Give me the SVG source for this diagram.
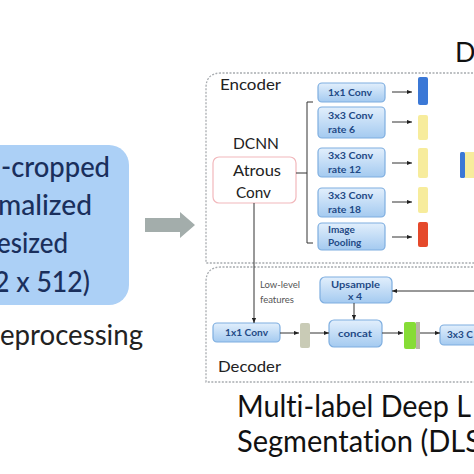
<svg xmlns="http://www.w3.org/2000/svg" width="474" height="474" viewBox="0 0 474 474">
<style>
text{font-variant-ligatures:none;}
.big{font-family:Lato,"Open Sans","Liberation Sans",sans-serif;}
.lt{font-family:Lato,"Liberation Sans",sans-serif;fill:#1a2f5c;font-size:28px;font-weight:500;}
.sm{font-family:Lato,"Liberation Sans",sans-serif;fill:#1f4a86;font-size:10px;font-weight:700;}
.blk{font-family:Lato,"Liberation Sans",sans-serif;fill:#222;}
.bx{fill:url(#bg);stroke:#7eaee0;stroke-width:1.2;}
.dash{fill:none;stroke:#a8acb0;stroke-width:1.3;stroke-dasharray:2 1.5;}
.ln{fill:none;stroke:#333;stroke-width:1;}
.arr{fill:none;stroke:#333;stroke-width:1;marker-end:url(#ah);}
</style>
<defs>
<linearGradient id="bg" x1="0" y1="0" x2="0" y2="1">
<stop offset="0" stop-color="#e2effc"/>
<stop offset="1" stop-color="#a4caf0"/>
</linearGradient>
<marker id="ah" viewBox="0 0 6 6" refX="6" refY="3" markerWidth="5" markerHeight="5" orient="auto" markerUnits="userSpaceOnUse">
<path d="M0,0.5 L6,3 L0,5.5 z" fill="#222"/>
</marker>
</defs>
<rect width="474" height="474" fill="#fff"/>

<g id="preprocessing">
<rect x="-30" y="145" width="159" height="160" rx="20" fill="#acd0f6"/>
<text class="lt" x="1" y="177" textLength="109" lengthAdjust="spacingAndGlyphs">-cropped</text>
<text class="lt" x="-2" y="215" textLength="94" lengthAdjust="spacingAndGlyphs">malized</text>
<text class="lt" x="-3" y="253" textLength="71" lengthAdjust="spacingAndGlyphs">esized</text>
<text class="lt" x="-6" y="292" textLength="96" lengthAdjust="spacingAndGlyphs">2 x 512)</text>
<text class="big" x="0" y="345" font-size="28" fill="#222" textLength="143" lengthAdjust="spacingAndGlyphs">eprocessing</text>
</g>

<g id="main-arrow">
<path d="M145,218 H180 V212 L195,225 L180,238 V232 H145 Z" fill="#a3adab"/>
</g>

<g id="title-d"><text class="big" x="455" y="62" font-size="27" fill="#111">D</text></g>

<g id="encoder">
<path class="dash" d="M480,73 H221 Q206,73 206,88 V263 H480"/>
<text class="blk" x="220" y="90" font-size="15" textLength="61" lengthAdjust="spacingAndGlyphs">Encoder</text>
<text class="blk" x="233" y="149" font-size="16" textLength="46" lengthAdjust="spacingAndGlyphs">DCNN</text>
</g>

<g id="atrous">
<rect x="213" y="157" width="83" height="46" rx="6" fill="#fff" stroke="#f2b8bc" stroke-width="1.2"/>
<text class="blk" x="233" y="176" font-size="16" textLength="48" lengthAdjust="spacingAndGlyphs">Atrous</text>
<text class="blk" x="236" y="198" font-size="16" textLength="35" lengthAdjust="spacingAndGlyphs">Conv</text>
</g>

<g id="b1"><rect class="bx" x="318" y="83" width="67" height="19" rx="4"/><text class="sm" x="328" y="96" textLength="44" lengthAdjust="spacingAndGlyphs">1x1 Conv</text></g>
<g id="b2"><rect class="bx" x="318" y="107" width="67" height="31" rx="4"/><text class="sm" x="328" y="119" textLength="45" lengthAdjust="spacingAndGlyphs">3x3 Conv</text><text class="sm" x="328" y="133" textLength="27" lengthAdjust="spacingAndGlyphs">rate 6</text></g>
<g id="b3"><rect class="bx" x="318" y="148" width="67" height="29" rx="4"/><text class="sm" x="328" y="159" textLength="45" lengthAdjust="spacingAndGlyphs">3x3 Conv</text><text class="sm" x="328" y="173" textLength="33" lengthAdjust="spacingAndGlyphs">rate 12</text></g>
<g id="b4"><rect class="bx" x="318" y="188" width="67" height="29" rx="4"/><text class="sm" x="328" y="199" textLength="45" lengthAdjust="spacingAndGlyphs">3x3 Conv</text><text class="sm" x="328" y="213" textLength="33" lengthAdjust="spacingAndGlyphs">rate 18</text></g>
<g id="b5"><rect class="bx" x="318" y="223" width="67" height="27" rx="4"/><text class="sm" x="328" y="233">Image</text><text class="sm" x="328" y="246">Pooling</text></g>

<g id="features">
<rect x="418" y="77" width="10" height="28" rx="2" fill="#3b78d6"/>
<rect x="418" y="115" width="10" height="25" rx="2" fill="#f7ec9c"/>
<rect x="418" y="148" width="10" height="30" rx="2" fill="#f7ec9c"/>
<rect x="418" y="187" width="10" height="26" rx="2" fill="#f7ec9c"/>
<rect x="418" y="222" width="10" height="25" rx="2" fill="#e5492b"/>
<rect x="460" y="152" width="5" height="26" rx="1.5" fill="#3b78d6"/>
<rect x="465" y="152" width="10" height="26" fill="#f7ec9c"/>
</g>

<g id="decoder">
<path class="dash" d="M480,267 H221 Q206,267 206,282 V382 H480"/>
<text class="blk" x="218" y="372" font-size="15" textLength="63" lengthAdjust="spacingAndGlyphs">Decoder</text>
<text x="260" y="288" font-family="Lato,'Liberation Sans',sans-serif" font-size="9.5" fill="#555">Low-level</text>
<text x="260" y="303" font-family="Lato,'Liberation Sans',sans-serif" font-size="9.5" fill="#555">features</text>
</g>

<g id="d1"><rect class="bx" x="213" y="323" width="67" height="19" rx="4"/><text class="sm" x="225" y="336" textLength="43" lengthAdjust="spacingAndGlyphs">1x1 Conv</text></g>
<g id="ups"><rect class="bx" x="320" y="277" width="72" height="26" rx="5"/><text class="sm" x="331" y="288" textLength="49" lengthAdjust="spacingAndGlyphs">Upsample</text><text class="sm" x="348" y="300" textLength="14" lengthAdjust="spacingAndGlyphs">x 4</text></g>
<g id="concat"><rect class="bx" x="329" y="320" width="53" height="27" rx="5"/><text class="sm" x="338" y="337" textLength="34" lengthAdjust="spacingAndGlyphs">concat</text></g>
<g id="d3"><rect class="bx" x="440" y="325" width="50" height="20" rx="4"/><text class="sm" x="447" y="338">3x3 C</text></g>
<g id="dfeat">
<rect x="300" y="323" width="10" height="25" rx="2" fill="#c9cbb6"/>
<rect x="404" y="322" width="12" height="27" rx="2" fill="#86dc36"/>
<rect x="416" y="322" width="4" height="27" fill="#b9b4a8"/>
</g>

<g id="connectors">
<path class="ln" d="M313,102 H307 V243 H313"/>
<path class="ln" d="M296,173 H307"/>
<path class="arr" d="M392,92 H412"/>
<path class="arr" d="M392,122 H412"/>
<path class="arr" d="M392,163 H412"/>
<path class="arr" d="M392,202 H412"/>
<path class="arr" d="M392,237 H412"/>
<path class="arr" d="M254,203 V323"/>
<path class="arr" d="M280,333 H299"/>
<path class="arr" d="M310,333 H329"/>
<path class="arr" d="M382,333 H403"/>
<path class="arr" d="M420,333 H440"/>
<path class="arr" d="M474,291 H392"/>
<path class="arr" d="M354,303 V320"/>
</g>

<g id="caption">
<text class="big" x="237" y="417" font-size="30" fill="#111" textLength="234" lengthAdjust="spacingAndGlyphs">Multi-label Deep L</text>
<text class="big" x="237" y="452" font-size="30" fill="#111" textLength="244" lengthAdjust="spacingAndGlyphs">Segmentation (DLS</text>
</g>
</svg>
